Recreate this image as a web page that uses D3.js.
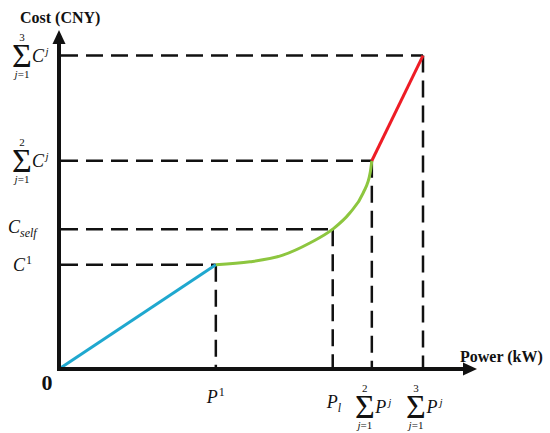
<!DOCTYPE html>
<html>
<head>
<meta charset="utf-8">
<script src="https://cdn.jsdelivr.net/npm/d3@7"></script>
<style>
  body { margin: 0; background: #fff; }
  svg text { font-family: "Liberation Serif", Tinos, "Times New Roman", Times, serif; fill: #111; }
</style>
</head>
<body>
<div id="graph"></div>
<script>
// break points of the cost curve (arbitrary units, 0..100 on both axes)
var powerBreaks = [37.7, 65.8, 75.2, 87.5];   // P1, Pl, sum2 P, sum3 P
var costBreaks = [30.9, 41.5, 61.8, 93.0];    // C1, Cself, sum2 C, sum3 C

var bluePts = [[0, 0], [37.7, 30.9]];
var greenPts = [[37.7, 30.9], [45.9, 31.8], [53.8, 33.8], [60.3, 37.4], [65.8, 41.5],
                [69.9, 46.3], [73.1, 52.2], [74.8, 58.2], [75.2, 61.8]];
var redPts = [[75.2, 61.8], [87.5, 93.0]];

var w = 550, h = 433;
var ox = 59, oy = 369; // origin

var x = d3.scaleLinear().domain([0, 100]).range([ox, 475]);
var y = d3.scaleLinear().domain([0, 100]).range([oy, 32]);

var svg = d3.select("#graph").append("svg")
  .attr("width", w)
  .attr("height", h)
  .attr("font-family", "Liberation Serif, serif");

// dashed guides
powerBreaks.forEach(function(p, i) {
  var c = costBreaks[i];
  svg.append("line")
    .attr("x1", x(0) + 2).attr("y1", y(c))
    .attr("x2", x(p)).attr("y2", y(c))
    .attr("stroke", "#111").attr("stroke-width", 2.5)
    .attr("stroke-dasharray", "17,8");
  svg.append("line")
    .attr("x1", x(p)).attr("y1", y(c))
    .attr("x2", x(p)).attr("y2", y(0) - 2)
    .attr("stroke", "#111").attr("stroke-width", 2.5)
    .attr("stroke-dasharray", "17,8");
});

var line = d3.line()
  .x(function(d) { return x(d[0]); })
  .y(function(d) { return y(d[1]); });

svg.append("path").attr("d", line(bluePts))
  .attr("fill", "none").attr("stroke", "#1fa8cf").attr("stroke-width", 3);
svg.append("path").attr("d", line.curve(d3.curveMonotoneX)(greenPts))
  .attr("fill", "none").attr("stroke", "#8dc63f").attr("stroke-width", 3);
svg.append("path").attr("d", line.curve(d3.curveLinear)(redPts))
  .attr("fill", "none").attr("stroke", "#ee1c25").attr("stroke-width", 3);

// axes with arrows
svg.append("line")
  .attr("x1", ox).attr("y1", oy + 2).attr("x2", ox).attr("y2", 42)
  .attr("stroke", "#111").attr("stroke-width", 4);
svg.append("path")
  .attr("d", "M" + ox + ",30L" + (ox - 6.5) + ",44L" + (ox + 6.5) + ",44Z")
  .attr("fill", "#111");
svg.append("line")
  .attr("x1", ox - 2).attr("y1", oy).attr("x2", 464).attr("y2", oy)
  .attr("stroke", "#111").attr("stroke-width", 4);
svg.append("path")
  .attr("d", "M477," + oy + "L463," + (oy - 6.5) + "L463," + (oy + 6.5) + "Z")
  .attr("fill", "#111");

svg.append("text").attr("x", 20).attr("y", 23)
  .attr("font-size", 16).attr("font-weight", "bold").text("Cost (CNY)");
svg.append("text").attr("x", 460).attr("y", 362)
  .attr("font-size", 16).attr("font-weight", "bold").text("Power (kW)");
svg.append("text").attr("x", 47).attr("y", 390).attr("text-anchor", "middle")
  .attr("font-size", 22).attr("font-weight", "bold").text("0");

// sum label as one text: sigma centred at (cx, cy), limits above/below, letter^j after
function sumLabel(cx, cy, n, letter) {
  var t = svg.append("text").attr("text-anchor", "middle");
  t.append("tspan").attr("x", cx).attr("y", cy - 15).attr("font-size", 11).text(n);
  t.append("tspan").attr("x", cx).attr("y", cy + 11).attr("font-size", 34).text("\u03A3");
  t.append("tspan").attr("x", cx).attr("y", cy + 22).attr("font-size", 11)
    .attr("font-style", "italic").text("j");
  t.append("tspan").attr("font-size", 11).text("=1");
  t.append("tspan").attr("x", cx + 16).attr("y", cy + 6).attr("font-size", 18)
    .attr("font-style", "italic").text(letter);
  t.append("tspan").attr("x", cx + 25).attr("y", cy - 1).attr("font-size", 11)
    .attr("font-style", "italic").text("j");
}

function supLabel(x0, base, letter, s) {
  var t = svg.append("text").attr("x", x0).attr("y", base)
    .attr("font-size", 18).attr("font-style", "italic").text(letter);
  t.append("tspan").attr("font-size", 12).attr("font-style", "normal")
    .attr("dy", -7).attr("dx", 1).text(s);
}

function subLabel(x0, base, letter, s) {
  var t = svg.append("text").attr("x", x0).attr("y", base)
    .attr("font-size", 18).attr("font-style", "italic").text(letter);
  t.append("tspan").attr("font-size", 12).attr("dy", 4).text(s);
}

// y labels
supLabel(13, y(costBreaks[0]) + 6, "C", "1");
subLabel(8, y(costBreaks[1]) + 4, "C", "self");
sumLabel(22, y(costBreaks[2]), "2", "C");
sumLabel(22, y(costBreaks[3]), "3", "C");

// x labels
supLabel(x(powerBreaks[0]) - 9, 403, "P", "1");
subLabel(x(powerBreaks[1]) - 6, 408, "P", "l");
sumLabel(x(powerBreaks[2]) - 7, 407, "2", "P");
sumLabel(x(powerBreaks[3]) - 7, 407, "3", "P");
</script>
</body>
</html>
